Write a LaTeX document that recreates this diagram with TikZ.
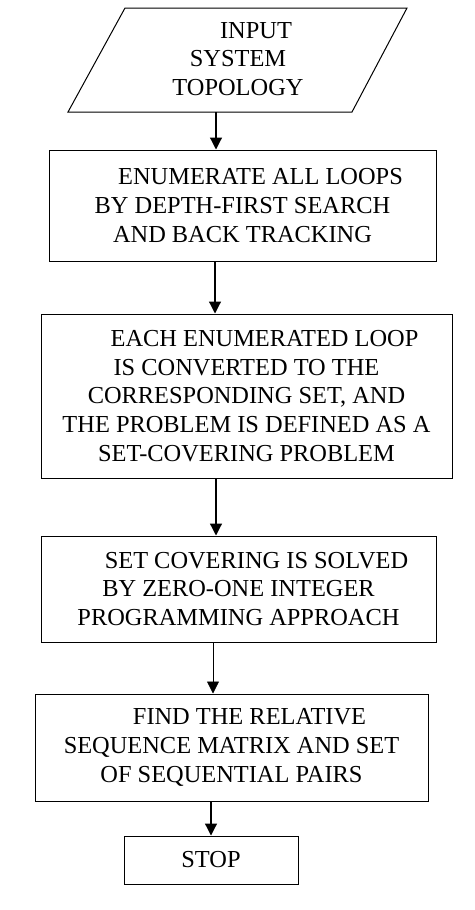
\documentclass[tikz,border=0pt]{standalone}
\usepackage{fontspec}
\setmainfont{Liberation Serif}
\usetikzlibrary{arrows.meta}
\begin{document}
\begin{tikzpicture}[x=1pt,y=-1pt,
  every node/.style={font=\fontsize{24.4}{28.6}\selectfont},
  procbox/.style={draw, line width=1pt, inner sep=0pt, align=center},
  flow/.style={line width=1.2pt, -{Triangle[length=12pt,width=12pt]}}]
\useasboundingbox (0,0) rectangle (474,910);
% input parallelogram
\draw[line width=1pt] (125,8) -- (407,8) -- (352,112) -- (68,112) -- cycle;
\node[align=center, inner sep=0pt] (in) at (238,59) {\hspace*{36pt}INPUT\\SYSTEM\\TOPOLOGY};
\coordinate (inbot) at (216,112);
% process boxes
\node[procbox, minimum width=387pt, minimum height=111pt] (b1) at (242.5,205.5)
  {\hspace*{36pt}ENUMERATE ALL LOOPS\\BY DEPTH-FIRST SEARCH\\AND BACK TRACKING};
\node[procbox, minimum width=411pt, minimum height=164pt] (b2) at (246.5,396)
  {\hspace*{36pt}EACH ENUMERATED LOOP\\IS CONVERTED TO THE\\CORRESPONDING SET, AND\\THE PROBLEM IS DEFINED AS A\\SET-COVERING PROBLEM};
\node[procbox, minimum width=395pt, minimum height=106pt] (b3) at (238.5,589)
  {\hspace*{36pt}SET COVERING IS SOLVED\\BY ZERO-ONE INTEGER\\PROGRAMMING APPROACH};
\node[procbox, minimum width=393pt, minimum height=107pt] (b4) at (231.5,747.5)
  {\hspace*{36pt}FIND THE RELATIVE\\SEQUENCE MATRIX AND SET\\OF SEQUENTIAL PAIRS};
\node[procbox, minimum width=174pt, minimum height=48pt] (stop) at (211,860) {STOP};
% connectors
\draw[flow] (inbot) -- ([xshift=-26.5pt]b1.north);
\draw[flow] ([xshift=-27.5pt]b1.south) -- ([xshift=-31.5pt]b2.north);
\draw[flow] ([xshift=-30.5pt]b2.south) -- ([xshift=-22.5pt]b3.north);
\draw[flow, line width=0.8pt] ([xshift=-25.5pt]b3.south) -- ([xshift=-18.5pt]b4.north);
\draw[flow] ([xshift=-20.5pt]b4.south) -- (stop.north);
\end{tikzpicture}
\end{document}
